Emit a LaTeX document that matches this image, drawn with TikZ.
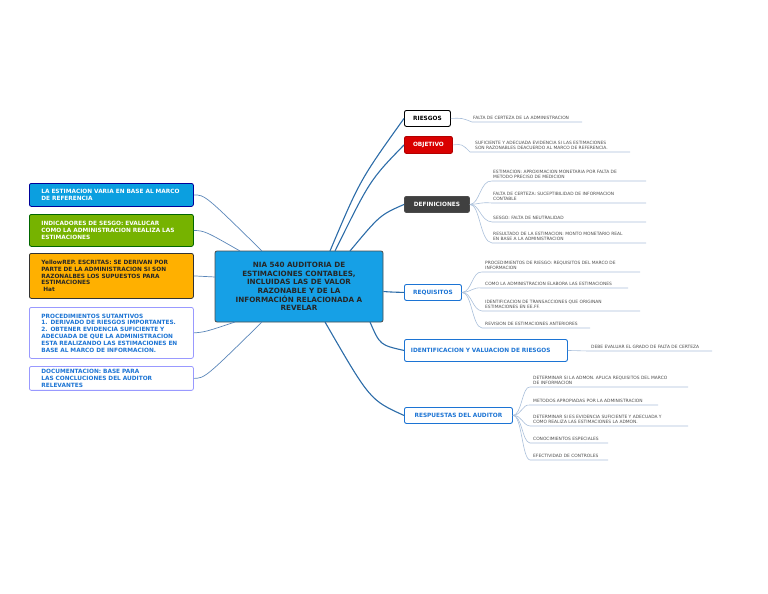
\documentclass[tikz,border=0pt]{standalone}
\usepackage{fontspec}
\setmainfont{DejaVu Sans}
\hyphenpenalty=10000
\exhyphenpenalty=10000
\definecolor{cblue}{HTML}{16A0E6}
\definecolor{lblue}{HTML}{0B9FE0}
\definecolor{lgreen}{HTML}{76B300}
\definecolor{lorange}{HTML}{FFB000}
\definecolor{tblue}{HTML}{1C74D4}
\definecolor{conc}{HTML}{2C6CA8}
\definecolor{subc}{HTML}{5A86B8}
\definecolor{ulc}{HTML}{A9BFDA}
\begin{document}
\begin{tikzpicture}[x=1pt,y=-1pt,
  main/.style={draw=black!70,line width=0.8pt,rounded corners=2pt,fill=cblue,align=center,font=\bfseries\fontsize{7.2}{8.6}\selectfont,text=black!85,inner sep=2pt},
  rbox/.style={rounded corners=2pt,line width=0.9pt,font=\bfseries\fontsize{5.8}{6.8}\selectfont,inner sep=2pt,anchor=north west,align=left},
  lbox/.style={rounded corners=2pt,line width=0.8pt,font=\bfseries\fontsize{5.8}{6.8}\selectfont,inner sep=3pt,anchor=north west,align=left,text width=140pt,minimum width=164pt},
  leaf/.style={font=\fontsize{4.4}{5.1}\selectfont,text=black!70,anchor=south west,inner sep=1pt,align=left},
  ul/.style={draw=ulc,line width=0.6pt},
  con/.style={draw=conc,line width=1.1pt},
  sub/.style={draw=subc,line width=0.7pt}]
\useasboundingbox (0,0) rectangle (768,594);
\node[main,minimum width=168pt,minimum height=71pt] (c) at (299,286.5) {NIA 540 AUDITORIA DE\\ESTIMACIONES CONTABLES,\\INCLUIDAS LAS DE VALOR\\RAZONABLE Y DE LA\\INFORMACIÓN RELACIONADA A\\REVELAR};
% right nodes
\node[rbox,draw=black,fill=white,minimum width=46pt,minimum height=16pt] (r1) at (404,110) {RIESGOS};
\node[rbox,draw=red!70!black,fill=red!85!black,text=white,minimum width=48pt,minimum height=17pt] (r2) at (404,136) {OBJETIVO};
\node[rbox,draw=black!70,fill=black!75,text=white,minimum width=65pt,minimum height=16pt] (r3) at (404,196) {DEFINICIONES};
\node[rbox,draw=tblue,fill=white,text=tblue,minimum width=57pt,minimum height=16pt] (r4) at (404,284) {REQUISITOS};
\node[rbox,draw=tblue,fill=white,text=tblue,minimum width=163pt,minimum height=22pt,text width=150pt] (r5) at (404,339) {IDENTIFICACION Y VALUACION DE RIESGOS};
\node[rbox,draw=tblue,fill=white,text=tblue,minimum width=108pt,minimum height=16pt] (r6) at (404,407) {RESPUESTAS DEL AUDITOR};
\draw[con] (330,251) .. controls (360,180) .. (r1.west);
\draw[con] (335,251) .. controls (370,180) .. (r2.west);
\draw[con] (350,251) .. controls (380,215) .. (r3.west);
\draw[con] (c.east) ++(0,5) .. controls (390,292) .. (r4.west);
\draw[con] (370,322) .. controls (380,345) .. (r5.west);
\draw[con] (325,322) .. controls (370,400) .. (r6.west);
% left boxes
\node[lbox,draw=blue!60!black,fill=lblue,text=white,minimum height=23pt] (l1) at (29,183) {LA ESTIMACION VARIA EN BASE AL MARCO DE REFERENCIA};
\node[lbox,draw=green!40!black,fill=lgreen,text=white,minimum height=32pt] (l2) at (29,214) {INDICADORES DE SESGO: EVALUCAR COMO LA ADMINISTRACION REALIZA LAS ESTIMACIONES};
\node[lbox,draw=black!80,fill=lorange,text=black!85,minimum height=45pt] (l3) at (29,253) {YellowREP. ESCRITAS: SE DERIVAN POR PARTE DE LA ADMINISTRACION SI SON RAZONALBES LOS SUPUESTOS PARA ESTIMACIONES\\ \ Hat};
\node[lbox,draw=blue!40,fill=white,text=tblue,minimum height=51pt] (l4) at (29,307) {PROCEDIMIENTOS SUTANTIVOS\\1. DERIVADO DE RIESGOS IMPORTANTES.\\2. OBTENER EVIDENCIA SUFICIENTE Y ADECUADA DE QUE LA ADMINISTRACION ESTA REALIZANDO LAS ESTIMACIONES EN BASE AL MARCO DE INFORMACION.};
\node[lbox,draw=blue!40,fill=white,text=tblue,minimum height=23pt] (l5) at (29,366) {DOCUMENTACION: BASE PARA LAS CONCLUCIONES DEL AUDITOR RELEVANTES};
\draw[sub] (l1.east) .. controls (205,195) .. (262,251);
\draw[sub] (l2.east) .. controls (205,231) .. (240,251);
\draw[sub] (l3.east) -- (215,277);
\draw[sub] (l4.east) .. controls (205,332) .. (235,322);
\draw[sub] (l5.east) .. controls (205,378) .. (262,322);
% leaves
\node[leaf] (a1) at (472,121) {FALTA DE CERTEZA DE LA ADMINISTRACION};
\draw[ul] (r1.east) .. controls (462,118) .. (472,122) -- (582,122);
\node[leaf] (a2) at (474,151) {SUFICIENTE Y ADECUADA EVIDENCIA SI LAS ESTIMACIONES\\SON RAZONABLES DEACUERDO AL MARCO DE REFERENCIA.};
\draw[ul] (r2.east) .. controls (462,144) .. (470,152) -- (630,152);
\foreach \y/\t in {180/{ESTIMACION: APROXIMACION MONETARIA POR FALTA DE\\METODO PRECISO DE MEDICION},202/{FALTA DE CERTEZA: SUCEPTIBILIDAD DE INFORMACION\\CONTABLE},221/{SESGO: FALTA DE NEUTRALIDAD},242/{RESULTADO DE LA ESTIMACION: MONTO MONETARIO REAL\\EN BASE A LA ADMINISTRACION}}{
  \node[leaf] at (492,\y) {\t};
  \draw[ul] (r3.east) .. controls (480,204) and (480,\y) .. (492,\y+1) -- (646,\y+1);
}
\foreach \y/\e/\t in {271/640/{PROCEDIMIENTOS DE RIESGO: REQUISITOS DEL MARCO DE\\INFORMACION},287/628/{COMO LA ADMINISTRACION ELABORA LAS ESTIMACIONES},310/640/{IDENTIFICACION DE TRANSACCIONES QUE ORIGINAN\\ESTIMACIONES EN EE.FF.},327/590/{REVISION DE ESTIMACIONES ANTERIORES}}{
  \node[leaf] at (484,\y) {\t};
  \draw[ul] (r4.east) .. controls (472,292) and (472,\y) .. (482,\y+1) -- (\e,\y+1);
}
\node[leaf] (i1) at (590,350) {DEBE EVALUAR EL GRADO DE FALTA DE CERTEZA};
\draw[ul] (r5.east) .. controls (578,350) .. (588,351) -- (712,351);
\foreach \y/\e/\t in {386/688/{DETERMINAR SI LA ADMON. APLICA REQUISITOS DEL MARCO\\DE INFORMACION},404/658/{METODOS APROPIADAS POR LA ADMINISTRACION},425/688/{DETERMINAR SI ES EVIDENCIA SUFICIENTE Y ADECUADA Y\\COMO REALIZA LAS ESTIMACIONES LA ADMON.},442/608/{CONOCIMIENTOS ESPECIALES},459/608/{EFECTIVIDAD DE CONTROLES}}{
  \node[leaf] at (532,\y) {\t};
  \draw[ul] (r6.east) .. controls (522,415) and (522,\y) .. (530,\y+1) -- (\e,\y+1);
}
\end{tikzpicture}
\end{document}
